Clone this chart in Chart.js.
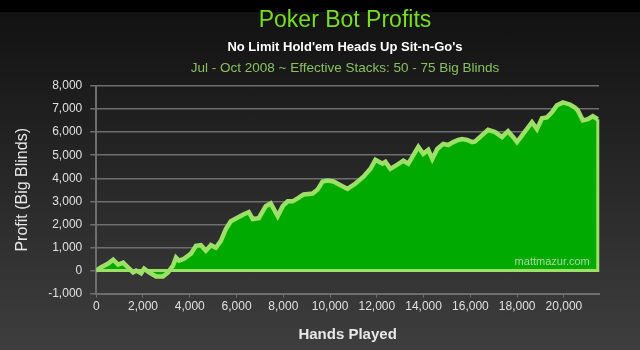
<!DOCTYPE html>
<html>
<head>
<meta charset="utf-8">
<script src="https://cdn.jsdelivr.net/npm/chart.js@4.4.1/dist/chart.umd.min.js"></script>
<style>
html, body { margin: 0; padding: 0; }
body {
  width: 640px; height: 350px; overflow: hidden;
  background: linear-gradient(to bottom, #000 0, #000 12px, #121212 12px, #3e3e3e 100%);
}
#wrap { width: 640px; height: 350px; position: relative; }
</style>
</head>
<body>
<div id="wrap"><canvas id="chart"></canvas></div>
<script>
// hands played vs cumulative profit (big blinds)
const hands = [0, 213, 512, 725, 938, 1151, 1364, 1578, 1706, 1919, 2047, 2260, 2558, 2857, 3070,
  3283, 3411, 3539, 3752, 4051, 4264, 4477, 4690, 4904, 5117, 5330, 5543, 5756, 6055, 6311,
  6524, 6694, 6950, 7249, 7462, 7760, 7974, 8187, 8400, 8613, 8869, 9253, 9466, 9679, 9892,
  10148, 10447, 10745, 11086, 11428, 11726, 11939, 12238, 12366, 12579, 12877, 13133, 13346, 13517, 13773,
  13986, 14199, 14370, 14583, 14839, 15052, 15265, 15478, 15649, 15862, 16075, 16203, 16502, 16757, 17056,
  17354, 17610, 17824, 17994, 18250, 18634, 18847, 19060, 19273, 19487, 19700, 19956, 20254, 20468, 20595,
  20809, 21022, 21235, 21448];
const profit = [0, 140, 300, 470, 260, 340, 130, -80, 0, -120, 80, -80, -260, -260, -80,
  210, 560, 430, 510, 730, 1070, 1100, 860, 1100, 990, 1290, 1800, 2140, 2300, 2440,
  2530, 2230, 2270, 2790, 2910, 2360, 2790, 3000, 3000, 3130, 3300, 3340, 3510, 3860, 3900,
  3860, 3700, 3540, 3770, 4070, 4410, 4800, 4630, 4710, 4410, 4590, 4760, 4630, 4930, 5360,
  5060, 5230, 4840, 5270, 5490, 5440, 5570, 5660, 5700, 5660, 5570, 5600, 5870, 6100, 6000,
  5790, 6040, 5790, 5570, 5910, 6430, 6130, 6600, 6640, 6860, 7160, 7290, 7200, 7070, 6940,
  6510, 6560, 6690, 6560];
const xTicks = [0, 2000, 4000, 6000, 8000, 10000, 12000, 14000, 16000, 18000, 20000];

const titleText = 'Poker Bot Profits';
const subText = "No Limit Hold'em Heads Up Sit-n-Go's";
const infoText = 'Jul - Oct 2008 ~ Effective Stacks: 50 - 75 Big Blinds';
const lineColor = '#9de068';
const fillColor = '#00aa00';
const gridColor = '#6e6e6e';
const font = '"Liberation Sans", Arial, sans-serif';

const extras = {
  id: 'extras',
  afterDatasetsDraw(chart) {
    const { ctx, chartArea, scales: { x, y } } = chart;
    const zero = y.getPixelForValue(0);
    const lastX = x.getPixelForValue(hands[hands.length - 1]);
    ctx.save();
    ctx.strokeStyle = lineColor;
    ctx.lineWidth = 3;
    ctx.beginPath();
    ctx.moveTo(chartArea.left, zero);
    ctx.lineTo(lastX, zero);
    ctx.lineTo(lastX, y.getPixelForValue(profit[profit.length - 1]));
    ctx.stroke();
    ctx.fillStyle = '#a8d8a0';
    ctx.font = '11px ' + font;
    ctx.textAlign = 'right';
    ctx.textBaseline = 'middle';
    ctx.fillText('mattmazur.com', lastX - 8, zero - 9);
    ctx.restore();
  },
  afterDraw(chart) {
    const ctx = chart.ctx;
    const cx = 345;
    ctx.save();
    ctx.textAlign = 'center';
    ctx.textBaseline = 'middle';
    ctx.fillStyle = '#77dd22';
    ctx.font = '23px ' + font;
    ctx.fillText(titleText, cx, 21);
    ctx.fillStyle = '#ffffff';
    ctx.font = 'bold 13px ' + font;
    ctx.fillText(subText, cx, 47);
    ctx.fillStyle = '#88c060';
    ctx.font = '13.5px ' + font;
    ctx.fillText(infoText, cx, 68);
    ctx.restore();
  }
};

new Chart(document.getElementById('chart'), {
  type: 'line',
  data: {
    datasets: [{
      data: hands.map((h, i) => ({ x: h, y: profit[i] })),
      borderColor: lineColor,
      backgroundColor: fillColor,
      borderWidth: 4.5,
      pointRadius: 0,
      tension: 0,
      fill: 'origin'
    }]
  },
  options: {
    responsive: true,
    maintainAspectRatio: false,
    animation: false,
    locale: 'en-US',
    layout: { padding: { top: 86, right: 41, bottom: 6, left: 13 } },
    plugins: { legend: { display: false }, tooltip: { enabled: false } },
    scales: {
      x: {
        type: 'linear',
        min: 0, max: 21500,
        afterBuildTicks(scale) { scale.ticks = xTicks.map(v => ({ value: v })); },
        ticks: { autoSkip: false, color: '#e0e0e0', font: { family: font, size: 12 }, maxRotation: 0, padding: 2 },
        grid: { drawOnChartArea: false, tickLength: 4, color: gridColor },
        border: { color: gridColor, width: 2 },
        title: { display: true, text: 'Hands Played', color: '#e8e8e8', font: { family: font, size: 15, weight: 'bold' }, padding: { top: 10, bottom: 0 } }
      },
      y: {
        min: -1000, max: 8000,
        ticks: { stepSize: 1000, color: '#e0e0e0', font: { family: font, size: 12 }, padding: 8 },
        grid: { color: gridColor, tickLength: 6, lineWidth: 1.5 },
        border: { color: gridColor, width: 2 },
        title: { display: true, text: 'Profit (Big Blinds)', color: '#e8e8e8', font: { family: font, size: 16 }, padding: { top: 0, bottom: 8 } }
      }
    }
  },
  plugins: [extras]
});
</script>
</body>
</html>
